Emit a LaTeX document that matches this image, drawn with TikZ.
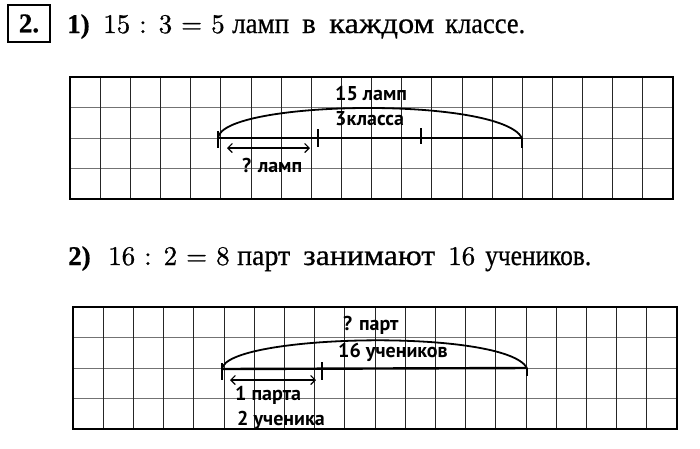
\documentclass[tikz,border=0pt]{standalone}
\usepackage{fontspec}
\usepackage{graphicx}
\setmainfont{Liberation Serif}[FakeBold=0.6]
\newfontfamily\lmr{lmroman10-regular.otf}[FakeBold=0.8]
\newfontfamily\lblfont{PT Sans}
\usetikzlibrary{arrows.meta}
\newcommand\fitword[2]{\resizebox{#1pt}{\height}{#2}}
\begin{document}
\begin{tikzpicture}[x=1pt,y=-1pt,
  gridh/.style={black!55, line width=0.6pt},
  gridv/.style={black!85, line width=0.8pt},
  gridframe/.style={black, line width=1.4pt},
  seg/.style={line width=2.4pt},
  tickmark/.style={line width=2.2pt},
  arcline/.style={line width=1.8pt},
  dbl/.style={line width=1.2pt, {Straight Barb[length=4.5pt,width=9pt]}-{Straight Barb[length=4.5pt,width=9pt]}},
  lbl/.style={font=\lblfont\bfseries\fontsize{20}{20}\selectfont, inner sep=0pt, anchor=base west},
  head/.style={font=\fontsize{29}{29}\selectfont, inner sep=0pt, anchor=base west},
  headnum/.style={font=\lmr\fontsize{27}{27}\selectfont, inner sep=0pt, anchor=base west},
]
\useasboundingbox (0,0) rectangle (700,448);
\fill[white] (0,0) rectangle (700,448);

% header 1
\node[draw, line width=1.3pt, minimum width=42pt, minimum height=37pt, inner sep=0pt,
      font=\bfseries\fontsize{27}{27}\selectfont] (box) at (29,23.5) {2.};
\node[head, font=\bfseries\fontsize{27}{27}\selectfont] (h1n) at (67,33) {1)};
\node[headnum] (h1a) at (103,33) {15 : 3 = 5};
\node[head] (h1w1) at (232,33) {\fitword{57}{ламп}};
\node[head] (h1w2) at (302,33) {в};
\node[head] (h1w3) at (329,33) {\fitword{105}{каждом}};
\node[head] (h1w4) at (445,33) {\fitword{80}{классе.}};

% grid 1
\foreach \j in {1,2,3} \draw[gridh] (70,{77+\j*30.5}) -- (673,{77+\j*30.5});
\foreach \i in {1,...,19} \draw[gridv] ({70+\i*30.15},77) -- ({70+\i*30.15},199);
\draw[gridframe] (70,77) rectangle (673,199);

\coordinate (a1) at (218,138);
\coordinate (t11) at (318,138);
\coordinate (t12) at (421,138);
\coordinate (b1) at (522,138);
\draw[seg] (a1) -- (b1);
\draw[tickmark] (a1) ++(0,-7) -- ++(0,17);
\draw[tickmark] (t11) ++(0,-9) -- ++(0,18);
\draw[tickmark] (t12) ++(0,-10) -- ++(0,16);
\draw[tickmark] (b1) -- ++(0,10);
\draw[arcline] (a1) .. controls (222,100) and (500,96) .. (b1);
\coordinate (l1) at (227,148);
\coordinate (r1) at (310,148);
\draw[dbl] (l1) -- (r1);
\node[lbl] (n15) at (335,100) {15 ламп};
\node[lbl] (n3) at (335,125) {3класса};
\node[lbl] (nq) at (242,172) {? ламп};

% header 2
\node[head, font=\bfseries\fontsize{27}{27}\selectfont] (h2n) at (68,265) {2)};
\node[headnum] (h2a) at (108,265) {16 : 2 = 8};
\node[head] (h2w1) at (237,265) {\fitword{53}{парт}};
\node[head] (h2w2) at (303,265) {\fitword{132}{занимают}};
\node[headnum] (h2w3) at (448,265) {16};
\node[head] (h2w4) at (485,265) {\fitword{106}{учеников.}};

% grid 2
\foreach \j in {1,2,3} \draw[gridh] (73,{307+\j*30.5}) -- (677,{307+\j*30.5});
\foreach \i in {1,...,19} \draw[gridv] ({73+\i*30.2},307) -- ({73+\i*30.2},429);
\draw[gridframe] (73,307) rectangle (677,429);

\coordinate (a2) at (222,369);
\coordinate (t21) at (322,369);
\coordinate (b2) at (527,368);
\draw[seg] (a2) -- (b2);
\draw[tickmark] (a2) ++(0,-6) -- ++(0,17);
\draw[tickmark] (t21) ++(0,-7) -- ++(0,18);
\draw[tickmark] (b2) -- ++(0,8);
\draw[arcline] (a2) .. controls (226,334) and (505,328) .. (b2);
\coordinate (l2) at (230,380);
\coordinate (r2) at (316,380);
\draw[dbl] (l2) -- (r2);
\node[lbl] (nqp) at (343,330) {? парт};
\node[lbl] (n16) at (338,357) {16 учеников};
\node[lbl] (n1p) at (235,400) {1 парта};
\node[lbl] (n2u) at (237,425) {2 ученика};
\end{tikzpicture}
\end{document}
